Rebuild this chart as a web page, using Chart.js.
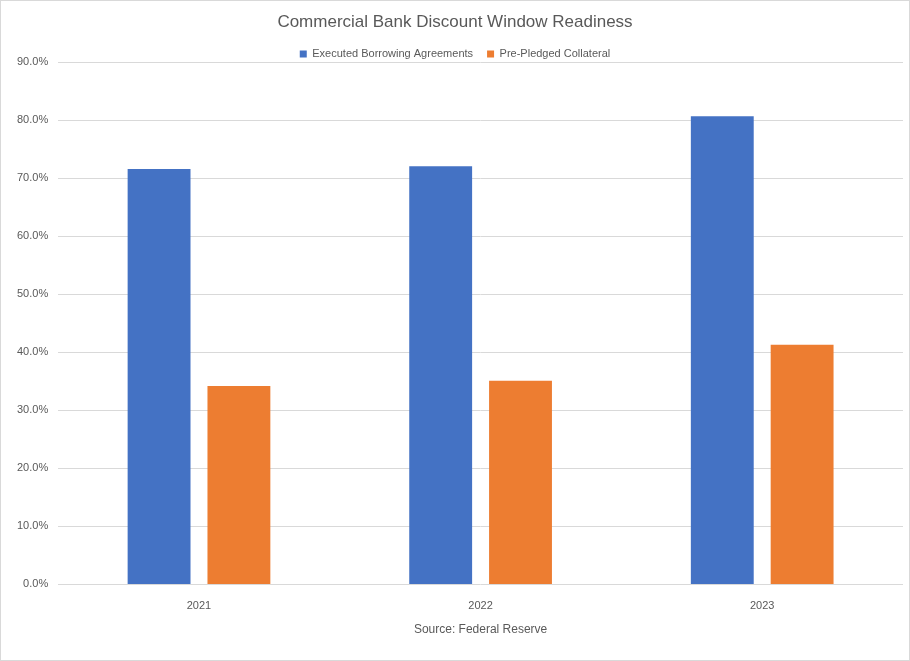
<!DOCTYPE html>
<html>
<head>
<meta charset="utf-8">
<script src="https://cdn.jsdelivr.net/npm/chart.js@4.4.1/dist/chart.umd.min.js"></script>
<style>
  html, body { margin: 0; padding: 0; background: #ffffff; }
  #wrap { width: 908px; height: 659px; border: 1px solid #d9d9d9; position: relative; }
  canvas { display: block; }
</style>
</head>
<body>
<div id="wrap"><canvas id="c" width="908" height="659"></canvas></div>
<script>
const categories = ['2021', '2022', '2023'];
const executedBorrowing = [71.6, 72.1, 80.7];
const prePledgedCollateral = [34.2, 35.1, 41.3];
const seriesNames = ['Executed Borrowing Agreements', 'Pre-Pledged Collateral'];
const yTicks = { min: 0, max: 90, step: 10 };

const fontFam = "'Liberation Sans', 'DejaVu Sans', sans-serif";

const legendTighten = {
  id: 'legendTighten',
  beforeInit(chart) {
    const orig = chart.legend.fit;
    chart.legend.fit = function () {
      orig.bind(chart.legend)();
      this.height -= 7;
    };
  }
};

new Chart(document.getElementById('c'), {
  type: 'bar',
  data: {
    labels: categories,
    datasets: [
      { label: seriesNames[0], data: executedBorrowing, backgroundColor: '#4472c4',
        categoryPercentage: 0.567, barPercentage: 0.7875 },
      { label: seriesNames[1], data: prePledgedCollateral, backgroundColor: '#ed7d31',
        categoryPercentage: 0.567, barPercentage: 0.7875 }
    ]
  },
  plugins: [legendTighten],
  options: {
    responsive: false,
    animation: false,
    layout: { padding: { left: 6, right: 6, top: 9, bottom: 19 } },
    plugins: {
      title: {
        display: true,
        text: 'Commercial Bank Discount Window Readiness',
        color: '#595959',
        font: { family: fontFam, size: 17, weight: 'normal' },
        padding: { top: 2, bottom: 2 }
      },
      legend: {
        display: true,
        position: 'top',
        labels: {
          color: '#595959',
          font: { family: fontFam, size: 11 },
          boxWidth: 7, boxHeight: 7,
          padding: 14
        }
      },
      tooltip: { enabled: false }
    },
    scales: {
      x: {
        grid: { display: false },
        border: { display: false },
        ticks: { color: '#595959', font: { family: fontFam, size: 11 }, padding: 7 },
        title: {
          display: true,
          text: 'Source: Federal Reserve',
          color: '#595959',
          font: { family: fontFam, size: 12 },
          padding: { top: 3 }
        }
      },
      y: {
        min: yTicks.min,
        max: yTicks.max,
        grid: { color: '#d9d9d9', drawTicks: false },
        border: { display: false },
        ticks: {
          stepSize: yTicks.step,
          color: '#595959',
          font: { family: fontFam, size: 11 },
          padding: 10,
          callback: v => v.toFixed(1) + '%'
        }
      }
    }
  }
});
</script>
</body>
</html>
